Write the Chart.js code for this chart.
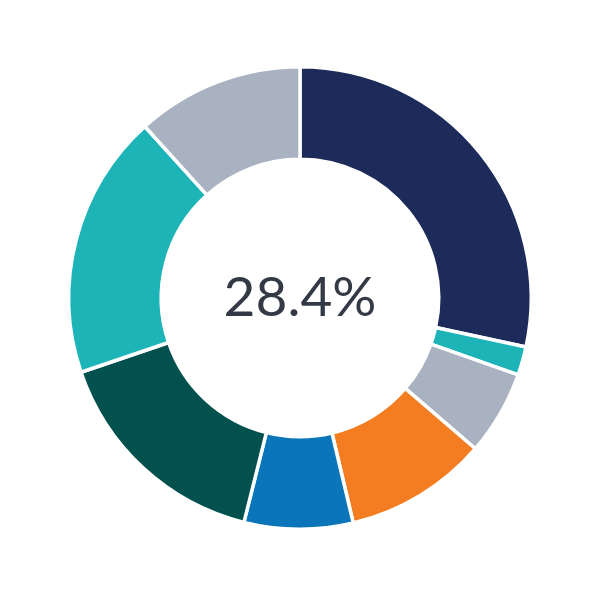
<!DOCTYPE html>
<html>
<head>
<meta charset="utf-8">
<script src="https://cdn.jsdelivr.net/npm/chart.js@4"></script>
<style>
  html, body { margin: 0; padding: 0; background: #fff; }
  #wrap { width: 600px; height: 600px; }
</style>
</head>
<body>
<div id="wrap"><canvas id="donut"></canvas></div>
<script>
// slices, clockwise from 12 o'clock
var labels = ["A", "B", "C", "D", "E", "F", "G", "H"];
var shares = [28.4, 2.0, 5.9, 10.0, 7.6, 15.9, 18.5, 11.7];
var colors = ["#1c2b5a", "#1db4b8", "#a9b2c0", "#f37d20", "#0a75b8", "#03514f", "#1db4b8", "#a9b2c0"];
var centerText = "28.4%";

// draws the big number in the hole
var centerLabel = {
  id: 'centerLabel',
  afterDraw: function(chart) {
    var meta = chart.getDatasetMeta(0).data[0];
    var c = chart.ctx;
    c.save();
    c.font = '400 55px Lato, "Open Sans", sans-serif';
    c.fillStyle = '#333a45';
    c.textAlign = 'center';
    c.textBaseline = 'middle';
    c.fillText(centerText, meta.x, meta.y);
    c.restore();
  }
};

var ctx = document.getElementById("donut");
var myChart = new Chart(ctx, {
  type: 'doughnut',
  data: {
    labels: labels,
    datasets: [
      {
        data: shares,
        backgroundColor: colors,
        borderColor: "#ffffff",
        borderWidth: 3.5,
        hoverOffset: 0
      }
    ]
  },
  options: {
    responsive: true,
    maintainAspectRatio: false,
    animation: false,
    cutout: '60%',
    layout: { padding: { left: 67, right: 67, top: 65, bottom: 69 } },
    plugins: {
      legend: { display: false },
      tooltip: { enabled: false }
    }
  },
  plugins: [centerLabel]
});
</script>
</body>
</html>
